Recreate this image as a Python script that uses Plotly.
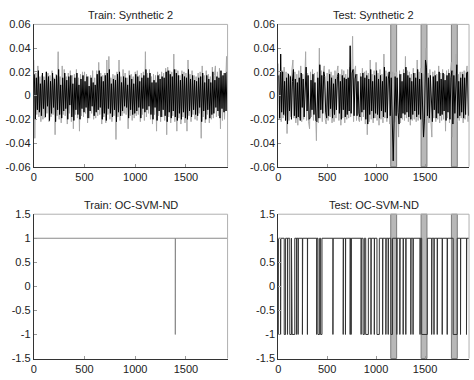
import plotly.graph_objects as go

# ---------------- data (values in thousandths for the top panels) ----------------
train_x_max = 1910
test_x_max = 1950

# gray (outer) trace, sampled every 10 samples starting at 0
train_gray = [
    30, -36, 19, -16, 25, -18, 16, -22, 17, -20,
    16, -19, 20, -15, 19, -22, 17, -18, 21, -16,
    15, -33, 18, -17, 37, -20, 16, -23, 25, -16,
    22, -17, 16, -24, 19, -15, 21, -22, 17, -28,
    18, -16, 22, -19, 15, -30, 18, -17, 20, -18,
    20, -15, 18, -23, 16, -19, 17, -15, 21, -20,
    15, -19, 21, -17, 28, -16, 19, -24, 17, -18,
    19, -23, 30, -16, 33, -20, 15, -22, 18, -17,
    17, -37, 20, -18, 30, -21, 16, -17, 22, -15,
    19, -16, 15, -28, 21, -17, 18, -21, 16, -19,
    20, -17, 21, -16, 17, -22, 19, -16, 20, -21,
    37, -18, 19, -15, 22, -20, 16, -24, 18, -16,
    17, -30, 20, -17, 18, -22, 20, -18, 19, -21,
    23, -33, 24, -18, 21, -23, 20, -17, 35, -22,
    22, -30, 21, -19, 17, -24, 21, -18, 20, -23,
    19, -30, 30, -17, 18, -22, 21, -16, 17, -20,
    16, -21, 19, -15, 20, -36, 25, -18, 17, -23,
    21, -16, 18, -23, 16, -20, 24, -19, 17, 25,
    -18, 20, -17, 23, -28, 16, -21, 19, -20, 22,
    33, -18,
]
# black (core) trace, sampled every 10 samples starting at 5
train_core = [
    18, -20, 15, -12, 21, -14, 10, -17, 19, -11,
    13, -18, 20, -9, 16, -21, 12, -15, 19, -10,
    14, -22, 17, -12, 22, -16, 9, -19, 15, -13,
    19, -11, 13, -20, 16, -8, 17, -18, 10, -21,
    15, -12, 19, -16, 9, -20, 14, -11, 17, -14,
    12, -10, 16, -19, 8, -13, 15, -9, 11, -17,
    9, -14, 18, -12, 21, -10, 16, -20, 12, -15,
    17, -21, 19, -11, 22, -15, 10, -18, 14, -12,
    13, -22, 18, -14, 20, -17, 11, -13, 16, -9,
    15, -10, 9, -19, 17, -12, 14, -16, 10, -15,
    18, -13, 16, -10, 12, -19, 15, -11, 17, -14,
    22, -12, 15, -9, 19, -16, 11, -20, 13, -10,
    11, -21, 17, -13, 14, -18, 16, -12, 15, -17,
    20, -22, 21, -14, 18, -19, 16, -13, 22, -18,
    19, -21, 17, -15, 13, -20, 18, -14, 16, -19,
    15, -20, 22, -13, 14, -18, 17, -12, 13, -16,
    12, -17, 15, -10, 16, -22, 19, -13, 11, -20,
    17, -12, 14, -19, 11, -16, 20, -15, 13, -10,
    16, -13, 15, -19, 21, -11, 17, -14, 19, -13,
    20,
]
test_gray = [
    27, -20, 18, -22, 21, -19, 24, -17, 20, -32,
    19, -21, 17, -18, 22, 30, -19, 20, -23, 18,
    -25, 21, -19, 25, -22, 18, -20, 23, 37, -21,
    19, -22, -28, 20, -18, 22, -21, 19, -24, -38,
    20, -23, 40, -19, 21, -22, 18, 25, -20, -24,
    19, -21, 22, -18, 20, -23, 17, -22, 21, -19,
    20, 25, -21, 18, -25, 22, -19, 21, -23, 18,
    -20, 22, -19, 24, -18, 21, 50, -22, 19, 25,
    -21, 18, -20, -22, 19, -21, 23, -18, 20, -24,
    21, -33, 19, -22, 30, -20, 18, -23, 21, -19,
    28, -21, 19, -25, 22, -20, 18, -23, 35, -19,
    21, -22, 19, 20, -24, 18, -21, 20, -23, 19,
    -22, 20, -19, -35, 21, -23, 18, -20, 22, -21,
    33, -19, 21, -22, 20, -25, 18, -21, 23, -20,
    19, -22, 30, -21, 20, -19, 23, -22, 18, -24,
    21, 40, -20, 19, -23, 22, -21, -35, 20, -19,
    21, -22, 18, -20, 25, -23, 19, -21, 22, -20,
    18, -30, 21, -19, 22, -23, 20, 28, -35, 21,
    -20, 19, 35, -22, 18, -21, 20, -19, 20, -23,
    21, -20, 19, 25, -22, 20,
]
test_core = [
    17, -19, 35, -14, 20, -16, 12, -21, 15, -24,
    18, -13, 16, -20, 12, 22, -17, 14, -19, 11,
    -18, 15, -21, 19, -10, 14, -18, 16, 24, -13,
    17, -20, -19, 13, -12, 18, -16, 11, -21, -22,
    15, -19, 26, -12, 17, -15, 20, 16, -14, -19,
    12, -17, 18, -11, 15, -19, 10, -16, 14, -12,
    16, 19, -15, 12, -20, 17, -12, 15, -18, 14,
    -16, 15, -13, 42, -15, 19, 22, -17, 14, 18,
    -17, 12, -15, -18, 16, -14, 19, -12, 15, -20,
    17, -24, 14, -16, 22, -13, 12, -19, 17, -15,
    21, -16, 14, -19, 17, -13, 12, -18, 24, -14,
    16, -19, 14, 20, -17, 15, -22, -55, -18, 16,
    -17, 15, -14, -24, 18, -19, 12, -15, 19, -16,
    24, -14, 17, -18, 15, -20, 12, -16, 19, -13,
    15, -18, 22, -16, 14, -20, 19, -24, -35, -19,
    30, 24, -17, 15, -19, 17, -14, -22, 16, -12,
    17, -19, 12, -15, 20, -17, 14, -16, 19, -13,
    13, -21, 17, -14, 19, -20, 15, 21, -24, 17,
    -15, 14, 26, -19, 12, -17, 15, -14, 18, -19,
    15, -16, 19, 20, -17,
]

# detector output: +1 normal, -1 inside these (start, end) sample ranges
train_outliers = [(1395, 1396)]
test_outliers = [
    (0, 3), (24, 26), (61, 75), (95, 97), (118, 135), (142, 169), (186, 188),
    (203, 205), (247, 250), (298, 300), (393, 395), (406, 423), (433, 447),
    (559, 561), (664, 667), (687, 689), (735, 737), (745, 747), (847, 849),
    (867, 880), (894, 921), (948, 950), (982, 984), (1009, 1033), (1067, 1069),
    (1100, 1103), (1124, 1126), (1151, 1168), (1212, 1214), (1243, 1245),
    (1277, 1279), (1304, 1306), (1355, 1357), (1378, 1380), (1449, 1452),
    (1466, 1524), (1568, 1571), (1592, 1594), (1625, 1627), (1676, 1678),
    (1727, 1729), (1788, 1829), (1863, 1865), (1924, 1927),
]

# true anomaly windows in the test series
anomaly_windows = [(1150, 1210), (1460, 1520), (1770, 1830)]

titles = ["Train: Synthetic 2", "Test: Synthetic 2", "Train: OC-SVM-ND", "Test: OC-SVM-ND"]
x_ticks = [0, 500, 1000, 1500]
sig_ticks = [-0.06, -0.04, -0.02, 0, 0.02, 0.04, 0.06]
sig_tick_text = ["-0.06", "-0.04", "-0.02", "0", "0.02", "0.04", "0.06"]
bin_ticks = [-1.5, -1, -0.5, 0, 0.5, 1, 1.5]
bin_tick_text = ["-1.5", "-1", "-0.5", "0", "0.5", "1", "1.5"]


def step_series(outliers, xmax):
    xs, ys = [0], [1]
    for s, e in outliers:
        xs += [s, s, e, e]
        ys += [1, -1, -1, 1]
    xs.append(xmax)
    ys.append(1)
    return xs, ys


W, H = 474, 380
xd_left = [31 / W, 226 / W]
xd_right = [277 / W, 469 / W]
yd_top = [1 - 166 / H, 1 - 19 / H]
yd_bot = [1 - 364 / H, 1 - 215 / H]

fig = go.Figure()

# top-left
fig.add_trace(go.Scatter(x=[10 * i for i in range(len(train_gray))], y=[v / 1000 for v in train_gray],
                         mode="lines", line=dict(color="#a8a8a8", width=1), xaxis="x", yaxis="y"))
fig.add_trace(go.Scatter(x=[10 * i + 5 for i in range(len(train_core))], y=[v / 1000 for v in train_core],
                         mode="lines", line=dict(color="#000000", width=1), xaxis="x", yaxis="y"))
# top-right
fig.add_trace(go.Scatter(x=[10 * i for i in range(len(test_gray))], y=[v / 1000 for v in test_gray],
                         mode="lines", line=dict(color="#a8a8a8", width=1), xaxis="x2", yaxis="y2"))
fig.add_trace(go.Scatter(x=[10 * i + 5 for i in range(len(test_core))], y=[v / 1000 for v in test_core],
                         mode="lines", line=dict(color="#000000", width=1), xaxis="x2", yaxis="y2"))
# bottom-left
bx, by = step_series(train_outliers, train_x_max)
fig.add_trace(go.Scatter(x=bx, y=by, mode="lines", line=dict(color="#8a8a8a", width=1),
                         xaxis="x3", yaxis="y3"))
# bottom-right
bx, by = step_series(test_outliers, test_x_max)
fig.add_trace(go.Scatter(x=bx, y=by, mode="lines", line=dict(color="#333333", width=1),
                         xaxis="x4", yaxis="y4"))

shapes = []
for ax in ["2", "4"]:
    for s, e in anomaly_windows:
        shapes.append(dict(type="rect", xref="x" + ax, yref="y" + ax + " domain", x0=s, x1=e, y0=0, y1=1,
                           fillcolor="#b8b8b8", line=dict(color="#7c7c7c", width=1), layer="below"))
# light top/right frame lines
for ax in ["", "2", "3", "4"]:
    shapes.append(dict(type="line", xref="x" + ax + " domain", yref="y" + ax + " domain",
                       x0=0, x1=1, y0=1, y1=1, line=dict(color="#b0b0b0", width=1)))
    shapes.append(dict(type="line", xref="x" + ax + " domain", yref="y" + ax + " domain",
                       x0=1, x1=1, y0=0, y1=1, line=dict(color="#b0b0b0", width=1)))

font = dict(family="Arial, Liberation Sans, sans-serif", size=11, color="#222222")

annotations = []
for ax, t in zip(["", "2", "3", "4"], titles):
    annotations.append(dict(text=t, xref="x" + ax + " domain", yref="y" + ax + " domain", x=0.5, y=1,
                            xanchor="center", yanchor="bottom", yshift=1, showarrow=False,
                            font=dict(family=font["family"], size=11, color="#222222")))


def xaxis(domain, anchor, xmax):
    return dict(domain=domain, anchor=anchor, range=[0, xmax], tickvals=x_ticks,
                ticktext=[str(v) for v in x_ticks], showgrid=False, zeroline=False,
                showline=True, linecolor="#333333", linewidth=1, ticks="inside", ticklen=3,
                tickcolor="#999999", tickfont=font)


def yaxis(domain, anchor, rng, tv, tt):
    return dict(domain=domain, anchor=anchor, range=rng, tickvals=tv, ticktext=tt, showgrid=False,
                zeroline=False, showline=True, linecolor="#333333", linewidth=1, ticks="inside",
                ticklen=3, tickcolor="#999999", tickfont=font)


fig.update_layout(
    width=W, height=H, margin=dict(l=0, r=0, t=0, b=0),
    paper_bgcolor="white", plot_bgcolor="white", showlegend=False,
    xaxis=xaxis(xd_left, "y", train_x_max),
    yaxis=yaxis(yd_top, "x", [-0.06, 0.06], sig_ticks, sig_tick_text),
    xaxis2=xaxis(xd_right, "y2", test_x_max),
    yaxis2=yaxis(yd_top, "x2", [-0.06, 0.06], sig_ticks, sig_tick_text),
    xaxis3=xaxis(xd_left, "y3", train_x_max),
    yaxis3=yaxis(yd_bot, "x3", [-1.5, 1.5], bin_ticks, bin_tick_text),
    xaxis4=xaxis(xd_right, "y4", test_x_max),
    yaxis4=yaxis(yd_bot, "x4", [-1.5, 1.5], bin_ticks, bin_tick_text),
    shapes=shapes, annotations=annotations,
)

fig.write_html("out.html", config={"displayModeBar": False},
               post_script="document.body.style.margin='0';")
